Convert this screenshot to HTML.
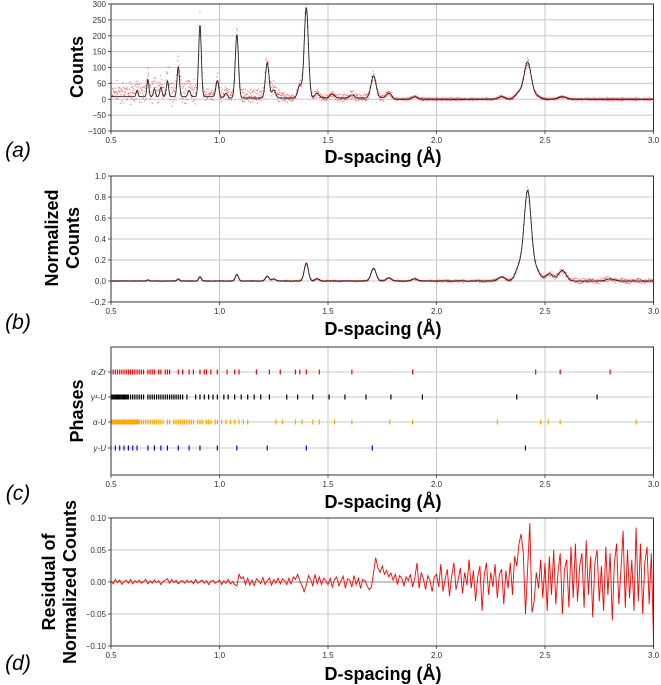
<!DOCTYPE html>
<html><head><meta charset="utf-8"><style>
html,body{margin:0;padding:0;background:#fff;width:661px;height:685px;overflow:hidden}
svg{display:block}
text{font-family:"Liberation Sans",sans-serif}
</style></head><body>
<svg id="fig" width="661" height="685" xmlns="http://www.w3.org/2000/svg"></svg>
<script>
// ---- data ----
const xTicks=[0.5,1.0,1.5,2.0,2.5,3.0];
const xTickLabels=["0.5","1.0","1.5","2.0","2.5","3.0"];
const yTicksA=[300,250,200,150,100,50,0,-50,-100];
const yTicksB=[1.0,0.8,0.6,0.4,0.2,0.0,-0.2];
const yTicksD=[0.10,0.05,0.00,-0.05,-0.10];
const peakPosA=[0.62,0.67,0.70,0.73,0.76,0.81,0.86,0.91,0.99,1.03,1.08,1.22,1.25,1.37,1.40,1.45,1.52,1.61,1.71,1.78,1.90,2.30,2.38,2.42,2.46,2.58];
const peakHA=[20,55,25,30,50,95,20,225,50,15,200,110,25,40,285,15,12,10,70,15,8,8,20,115,10,8];
const peakPosB=[0.67,0.81,0.91,1.08,1.22,1.25,1.40,1.45,1.71,1.78,1.90,2.30,2.38,2.42,2.46,2.52,2.58,2.80];
const peakHB=[0.01,0.02,0.04,0.06,0.045,0.02,0.17,0.02,0.12,0.03,0.02,0.04,0.13,0.85,0.1,0.07,0.1,0.02];
const noise1=[0.3,-0.8,0.9,-0.2,0.5,-0.6,0.1,0.7,-0.9,0.4,-0.3,0.8,-0.5,0.2,-0.7,0.6,-0.1,0.95,-0.4,0.0,-0.85,0.45,0.25,-0.55,0.75,-0.15,0.35,-0.95,0.65,-0.35,0.15,-0.65,0.85,-0.25,0.55,-0.75,0.05];
const noise2=[-0.4,0.7,-0.1,0.9,-0.6,0.2,0.5,-0.8,0.3,-0.3,0.8,-0.5,0.1,0.6,-0.9,0.4,-0.2,0.7,-0.7,0.0,0.95,-0.45,0.25,-0.65,0.55,-0.05,0.85,-0.35,0.15,-0.75,0.45,-0.15,0.65,-0.95,0.35,-0.55,0.75,-0.25,0.05,0.5,-0.5];
const phaseNames=["α-Zr","γ¹-U","α-U","γ-U"];
const phaseColors=["#ff0000","#000000","#ffa500","#0000ff"];
const phaseZr=[0.50,0.51,0.52,0.53,0.54,0.55,0.56,0.57,0.58,0.59,0.60,0.61,0.62,0.63,0.64,0.65,0.67,0.68,0.69,0.70,0.72,0.73,0.75,0.76,0.77,0.81,0.83,0.86,0.88,0.91,0.93,0.94,0.96,0.99,1.035,1.07,1.09,1.17,1.23,1.28,1.35,1.37,1.40,1.46,1.61,1.89,2.457,2.57,2.80];
const phaseG1U=[0.50,0.505,0.51,0.515,0.52,0.525,0.53,0.535,0.54,0.545,0.55,0.555,0.56,0.565,0.57,0.575,0.58,0.59,0.60,0.61,0.62,0.63,0.64,0.65,0.67,0.68,0.69,0.70,0.71,0.72,0.73,0.74,0.75,0.76,0.77,0.78,0.79,0.80,0.81,0.82,0.83,0.85,0.89,0.91,0.93,0.95,0.97,0.99,1.02,1.04,1.07,1.10,1.13,1.16,1.19,1.23,1.31,1.36,1.43,1.505,1.578,1.675,1.79,1.935,2.37,2.74];
const phaseAU=[0.50,0.505,0.51,0.515,0.52,0.525,0.53,0.535,0.54,0.545,0.55,0.555,0.56,0.565,0.57,0.575,0.58,0.585,0.59,0.595,0.60,0.605,0.61,0.615,0.62,0.625,0.63,0.64,0.65,0.66,0.67,0.68,0.69,0.70,0.71,0.72,0.73,0.74,0.76,0.77,0.79,0.80,0.81,0.82,0.83,0.84,0.85,0.86,0.87,0.88,0.90,0.91,0.92,0.94,0.95,0.96,0.98,0.99,1.01,1.03,1.05,1.07,1.09,1.11,1.13,1.26,1.29,1.35,1.38,1.43,1.46,1.53,1.61,1.785,1.89,2.28,2.48,2.515,2.57,2.92];
const phaseGU=[0.50,0.52,0.54,0.56,0.58,0.60,0.62,0.67,0.70,0.73,0.76,0.81,0.86,0.91,0.99,1.08,1.22,1.40,1.704,2.41];
const resid=[0.002,-0.003,0.004,-0.001,0.003,-0.004,0.001,0.003,-0.002,0.004,-0.003,0.002,-0.001,0.003,-0.002,0.001,0.004,-0.003,0.002,-0.002,0.003,-0.001,0.002,-0.004,0.001,0.003,0.005,-0.002,0.004,-0.001,0.003,-0.003,0.001,0.002,-0.002,0.003,-0.001,0.002,-0.003,0.004,-0.002,0.001,0.003,-0.002,0.002,-0.004,0.001,0.003,-0.002,0.000,
0.003,-0.004,0.002,-0.002,0.004,-0.003,0.001,-0.004,-0.006,0.012,0.005,0.008,-0.004,0.006,-0.005,0.003,-0.006,0.005,0.002,-0.003,0.007,-0.004,0.002,0.006,-0.005,0.004,-0.002,0.006,-0.003,0.005,0.002,-0.004,0.006,-0.003,0.008,0.004,0.012,0.002,-0.006,-0.015,-0.005,0.01,0.004,-0.006,0.012,-0.003,0.008,-0.004,0.006,0.002,
-0.004,0.006,-0.008,0.004,0.008,-0.006,0.002,0.009,-0.01,0.005,0.003,-0.008,0.01,-0.004,0.006,-0.01,0.004,0.002,-0.006,-0.012,-0.008,0.015,0.038,0.022,0.015,0.025,0.012,0.018,0.008,0.014,0.003,0.012,-0.004,0.01,0.006,-0.006,0.008,0.002,0.012,-0.008,0.006,0.03,-0.01,0.015,0.004,-0.012,0.01,0.002,-0.015,0.008,
0.012,-0.008,0.028,-0.015,0.005,0.02,-0.022,0.01,0.03,-0.012,0.004,0.022,-0.018,0.015,-0.005,0.035,-0.01,0.018,-0.03,0.008,0.025,-0.045,0.01,0.03,-0.02,0.015,-0.008,0.028,-0.025,0.012,0.02,-0.035,0.018,-0.01,0.03,-0.02,0.04,0.025,0.06,0.075,0.045,-0.05,0.02,0.092,-0.048,-0.03,0.015,-0.01,0.035,-0.025,
0.03,-0.045,0.04,-0.02,0.05,-0.035,0.015,0.045,-0.05,0.02,0.035,-0.04,0.055,-0.025,0.06,-0.03,0.025,0.045,-0.04,0.065,-0.02,0.04,-0.055,0.03,0.05,-0.03,0.025,-0.045,0.055,-0.02,0.045,-0.06,0.03,0.06,-0.035,0.02,0.08,-0.04,0.05,-0.025,0.035,-0.045,0.085,-0.03,0.06,-0.05,0.03,0.055,-0.035,0.045,-0.09];

// ---- drawing ----
const NS="http://www.w3.org/2000/svg";
const svg=document.getElementById('fig');
function mk(tag,attrs,parent){const e=document.createElementNS(NS,tag);for(const k in attrs)e.setAttribute(k,attrs[k]);(parent||svg).appendChild(e);return e;}
const X0=111,X1=653.5;
function xs(d){return X0+(d-0.5)/2.5*(X1-X0);}
function makeY(top,bot,vmax,vmin){return v=>top+(vmax-v)/(vmax-vmin)*(bot-top);}
function model(d,pos,h,bg){let s=bg;for(let i=0;i<pos.length;i++){const sg=0.0068*pos[i];s+=h[i]*Math.exp(-0.5*((d-pos[i])/sg)**2);}return s;}

function frame(name,top,bot,yticks,ylab,ys,hgrid){
  const g=mk('g',{});
  
  
  xTicks.forEach((t,i)=>{
    const gl=mk('line',{x1:xs(t),x2:xs(t),y1:top,y2:bot,stroke:'#c8c8c8','stroke-width':1},g);
    
    
    mk('line',{x1:xs(t),x2:xs(t),y1:bot,y2:bot+3,stroke:'#333','stroke-width':0.8},g);
    const tx=mk('text',{x:xs(t),y:bot+12,'font-size':8,fill:'#333','text-anchor':'middle'},g);
    tx.textContent=xTickLabels[i];
    
    
  });
  yticks.forEach((t,i)=>{
    const y=ys(t);
    if(hgrid){const gl=mk('line',{x1:X0,x2:X1,y1:y,y2:y,stroke:'#c8c8c8','stroke-width':1},g);
      
      }
    mk('line',{x1:X0-3,x2:X0,y1:y,y2:y,stroke:'#333','stroke-width':0.8},g);
    const tx=mk('text',{x:X0-5,y:y+3,'font-size':8,fill:'#333','text-anchor':'end'},g);
    tx.textContent=ylab[i];
    
    
  });
  return g;
}
function border(top,bot){const r=mk('rect',{x:X0,y:top,width:X1-X0,height:bot-top,fill:'none',stroke:'#333','stroke-width':1});
  
  }
function text(str,x,y,size,opts,name){const t=mk('text',Object.assign({x:x,y:y,'font-size':size,'text-anchor':'middle'},opts||{}));t.textContent=str;
  
  return t;}
function vtext(str,x,y,size,name){return text(str,0,0,size,{'font-weight':'bold',transform:`translate(${x},${y}) rotate(-90)`},name);}
function fmt(v,dec){return (v<0?'−':'')+Math.abs(v).toFixed(dec);}
const LBL={'font-style':'italic','font-family':'"Liberation Serif",serif'};

// Panel A
{const top=4,bot=131,ys=makeY(top,bot,300,-100);
 frame('panel-a',top,bot,yTicksA,yTicksA.map(v=>fmt(v,0)),ys,true);
 const dots=mk('g',{fill:'#ff0000','fill-opacity':0.5});
 
 
 let i=0;
 for(let d=0.5;d<=3.0;d+=0.0016,i++){
   const amp=d<0.9?36:d<1.3?22:d<1.8?12:5; const off=d<0.9?12:d<1.3?6:0;
   const bg=d<1.0?8:d<1.8?4:0;
   const v=model(d,peakPosA,peakHA,bg)*(1+0.12*noise2[i%41])+off+amp*(noise1[i%37]*0.7+noise2[(i*3)%41]*0.5);
   mk('rect',{x:xs(d)-0.6,y:ys(Math.max(-100,Math.min(300,v)))-0.6,width:1.2,height:1.2},dots);
 }
 let p='';for(let d=0.5;d<=3.0;d+=0.002){const bg=d<1.0?8:d<1.8?4:0;p+=(p?'L':'M')+xs(d).toFixed(1)+','+ys(model(d,peakPosA,peakHA,bg)).toFixed(1);}
 const l=mk('path',{d:p,fill:'none',stroke:'#222','stroke-width':0.9});
 
 
 border(top,bot);
 vtext('Counts',83,67,18,'y-axis-title');
 text('D-spacing (Å)',383,163,18,{'font-weight':'bold'},'x-axis-title');
 text('(a)',18,157,21,LBL,'panel-label-a');
}
// Panel B
{const top=176,bot=302,ys=makeY(top,bot,1.0,-0.2);
 frame('panel-b',top,bot,yTicksB,yTicksB.map(v=>fmt(v,1)),ys,true);
 const dots=mk('g',{fill:'#ff0000','fill-opacity':0.5});
 
 
 let i=0;
 for(let d=0.5;d<=3.0;d+=0.002,i++){
   const amp=d<1.3?0.003:d<2.0?0.006:d<2.35?0.01:0.02;
   const v=model(d,peakPosB,peakHB,0)*(1+0.08*noise1[i%37])+amp*(noise1[(i*5)%37]+noise2[i%41]*0.6);
   mk('rect',{x:xs(d)-0.6,y:ys(v)-0.6,width:1.2,height:1.2},dots);
 }
 let p='';for(let d=0.5;d<=3.0;d+=0.002){p+=(p?'L':'M')+xs(d).toFixed(1)+','+ys(model(d,peakPosB,peakHB,0)).toFixed(1);}
 const l=mk('path',{d:p,fill:'none',stroke:'#222','stroke-width':0.9});
 
 
 border(top,bot);
 vtext('Normalized',58,238,18,'y-axis-title-line1');
 vtext('Counts',79,238,18,'y-axis-title-line2');
 text('D-spacing (Å)',383,335,18,{'font-weight':'bold'},'x-axis-title');
 text('(b)',18,329,21,LBL,'panel-label-b');
}
// Panel C
{const top=347,bot=475;const rowsY=[372,397,422,448];
 frame('panel-c',top,bot,[],[],null,false);
 const sets=[phaseZr,phaseG1U,phaseAU,phaseGU];
 sets.forEach((arr,r)=>{
   const y=rowsY[r];
   const gl=mk('line',{x1:X0,x2:X1,y1:y,y2:y,stroke:'#c8c8c8','stroke-width':1});
   
   
   mk('line',{x1:X0-3,x2:X0,y1:y,y2:y,stroke:'#333','stroke-width':0.8});
   const t=mk('text',{x:X0-5,y:y+3,'font-size':8,fill:'#333','text-anchor':'end','font-style':'italic'});
   t.textContent=phaseNames[r];
   
   
   const g=mk('g',{stroke:phaseColors[r],'stroke-width':1.2});
   
   
   arr.forEach(d=>mk('line',{x1:xs(d),x2:xs(d),y1:y-2.5,y2:y+2.5},g));
 });
 border(top,bot);
 vtext('Phases',83,411,18,'y-axis-title');
 text('D-spacing (Å)',383,508,18,{'font-weight':'bold'},'x-axis-title');
 text('(c)',18,500,21,LBL,'panel-label-c');
}
// Panel D
{const top=518,bot=646,ys=makeY(top,bot,0.10,-0.10);
 frame('panel-d',top,bot,yTicksD,yTicksD.map(v=>fmt(v,2)),ys,true);
 mk('line',{x1:X0,x2:X1,y1:ys(0),y2:ys(0),stroke:'#777','stroke-width':0.8});
 let p='';resid.forEach((v,i)=>{const d=Math.min(3.0,0.5+i*0.01);p+=(p?'L':'M')+xs(d).toFixed(1)+','+ys(v).toFixed(1);});
 const l=mk('path',{d:p,fill:'none',stroke:'#ff0000','stroke-width':0.9});
 
 
 border(top,bot);
 vtext('Residual of',55,582,18,'y-axis-title-line1');
 vtext('Normalized Counts',76,582,18,'y-axis-title-line2');
 text('D-spacing (Å)',383,680,18,{'font-weight':'bold'},'x-axis-title');
 text('(d)',18,670,21,LBL,'panel-label-d');
}
</script>
</body></html>
